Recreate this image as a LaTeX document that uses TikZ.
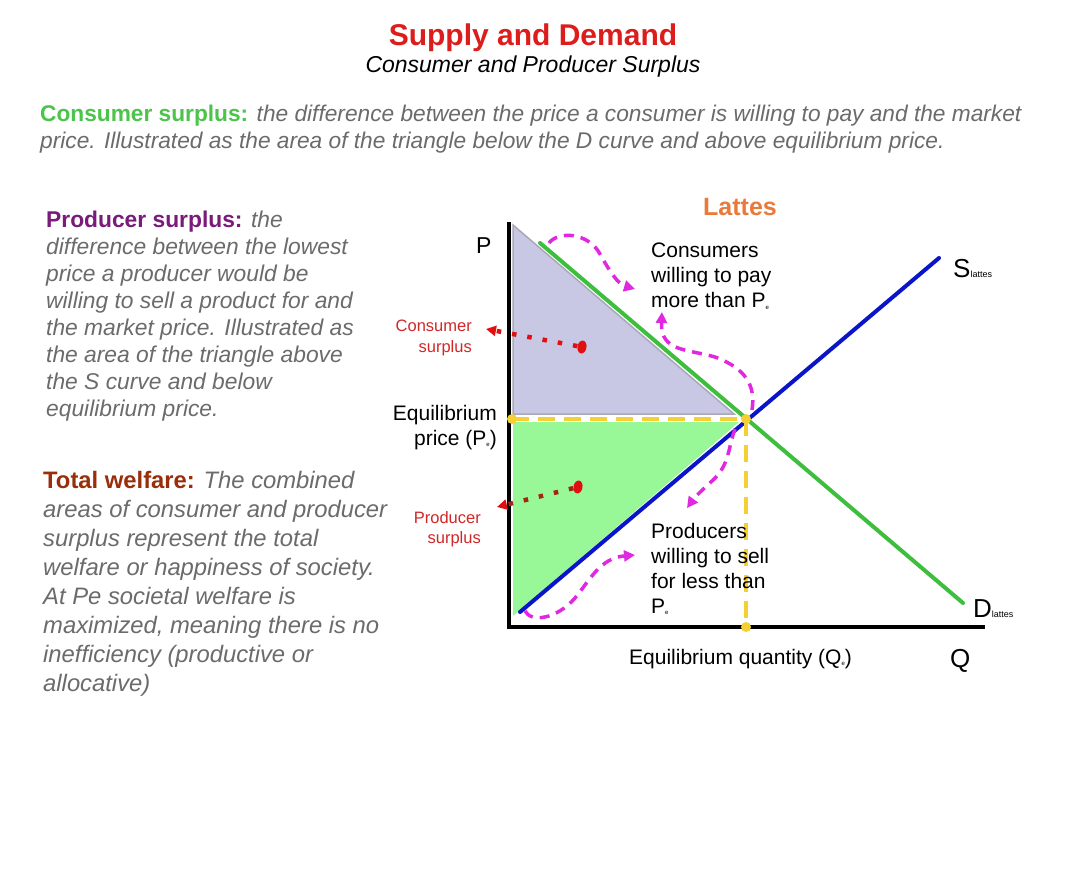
\documentclass[tikz,border=0pt]{standalone}
\usepackage{fontspec}
\setmainfont{Liberation Sans}
\usetikzlibrary{arrows.meta,shapes.geometric}

\definecolor{titlered}{HTML}{DD1C1C}
\definecolor{csgreen}{HTML}{4CC44C}
\definecolor{pspurple}{HTML}{7A1A7A}
\definecolor{twbrown}{HTML}{992E0A}
\definecolor{bodygray}{HTML}{6B6B6B}
\definecolor{latteorange}{HTML}{EA7A3A}
\definecolor{demandgreen}{HTML}{3DBE3D}
\definecolor{supplyblue}{HTML}{0A14C8}
\definecolor{cslav}{HTML}{C8C8E4}
\definecolor{csedge}{HTML}{A8A8B8}
\definecolor{psgreen}{HTML}{98F898}
\definecolor{eqyellow}{HTML}{F5D035}
\definecolor{arrowmag}{HTML}{E028E0}
\definecolor{labelred}{HTML}{D02828}
\definecolor{dotred}{HTML}{E01010}
\definecolor{dotbrown}{HTML}{A02810}

\newcommand{\pesub}{\raisebox{-1.5pt}{\fontsize{6}{6}\selectfont e}}
\newcommand{\lattesub}{{\fontsize{9}{9}\selectfont lattes}}

\begin{document}
\begin{tikzpicture}[
        x=1pt, y=-1pt, >=Triangle,
        para/.style={anchor=north west, align=left, inner sep=0pt, text=bodygray},
        graphtext/.style={inner sep=0pt, align=left, font=\fontsize{21}{25}\selectfont},
        arealabel/.style={anchor=north east, align=right, inner sep=0pt, text=labelred, font=\fontsize{16.5}{21}\selectfont},
        axislabel/.style={anchor=base west, inner sep=0pt, font=\fontsize{26}{26}\selectfont},
        axis/.style={line width=4pt},
        curve/.style={line width=4pt, line cap=round},
        eqdash/.style={eqyellow, line width=4pt, dash pattern=on 17pt off 9pt},
        eqdot/.style={circle, fill=eqyellow, inner sep=0pt, minimum size=10pt},
        surplusarrow/.style={arrowmag, line width=3.5pt, dash pattern=on 10pt off 7pt, -{Triangle[length=11pt,width=11pt]}},
        dotarrow/.style={line width=4.5pt, dash pattern=on 4.5pt off 11pt, -{Triangle[length=10pt,width=10pt]}},
        areadot/.style={ellipse, inner sep=0pt, minimum width=9pt, minimum height=13pt}
    ]
        \fill[white] (0,0) rectangle (1066,876);
        \useasboundingbox (0,0) rectangle (1066,876);

        % heading
        \node[anchor=base, inner sep=0pt, text=titlered, font=\fontsize{30}{30}\selectfont\bfseries] (title) at (533,45) {Supply and Demand};
        \node[anchor=base, inner sep=0pt, font=\fontsize{23}{23}\selectfont\itshape] (subtitle) at (533,72) {Consumer and Producer Surplus};

        % definitions
        \node[para, font=\fontsize{22.7}{27}\selectfont\itshape] (cstext) at (40,105)
            {{\color{csgreen}\upshape\bfseries Consumer surplus:} the difference between the price a consumer is willing to pay and the market\\
             price. Illustrated as the area of the triangle below the D curve and above equilibrium price.};
        \node[para, font=\fontsize{22.8}{27}\selectfont\itshape] (pstext) at (46,211)
            {{\color{pspurple}\upshape\bfseries Producer surplus:} the\\
             difference between the lowest\\
             price a producer would be\\
             willing to sell a product for and\\
             the market price. Illustrated as\\
             the area of the triangle above\\
             the S curve and below\\
             equilibrium price.};
        \node[para, font=\fontsize{23.8}{29}\selectfont\itshape] (twtext) at (43,471)
            {{\color{twbrown}\upshape\bfseries Total welfare:} The combined\\
             areas of consumer and producer\\
             surplus represent the total\\
             welfare or happiness of society.\\
             At Pe societal welfare is\\
             maximized, meaning there is no\\
             inefficiency (productive or\\
             allocative)};

        % surplus areas
        \coordinate (cstop) at (513,225);
        \coordinate (csleft) at (513,414);
        \coordinate (csright) at (734,414);
        \coordinate (psleft) at (513,422);
        \coordinate (psright) at (739,422);
        \coordinate (psbottom) at (513,616);
        \filldraw[fill=cslav, draw=csedge, line width=1.5pt] (cstop) -- (csleft) -- (csright) -- cycle;
        \fill[psgreen] (psleft) -- (psright) -- (psbottom) -- cycle;

        % axes
        \coordinate (ptop) at (509,222);
        \coordinate (origin) at (509,627);
        \coordinate (qend) at (985,627);
        \draw[axis] (ptop) -- (origin) -- (qend);

        % curves
        \coordinate (dstart) at (540,243);
        \coordinate (dend) at (963,603);
        \coordinate (sstart) at (520,612);
        \coordinate (send) at (939,258);
        \draw[curve, demandgreen] (dstart) -- (dend);
        \draw[curve, supplyblue] (sstart) -- (send);

        % equilibrium guides
        \node[eqdot] (peaxis) at (512,419) {};
        \node[eqdot] (eq) at (746,419) {};
        \node[eqdot] (qeaxis) at (746,627) {};
        \draw[eqdash] (peaxis.center) -- (eq.center);
        \draw[eqdash] (eq.center) -- (qeaxis.center);

        % axis and curve labels
        \node[anchor=base, inner sep=0pt, text=latteorange, font=\fontsize{25}{25}\selectfont\bfseries] (lattes) at (740,215) {Lattes};
        \node[anchor=base west, inner sep=0pt, font=\fontsize{23}{23}\selectfont] (plabel) at (476,253) {P};
        \node[axislabel] (qlabel) at (950,667) {Q};
        \node[axislabel] (slabel) at (953,277) {S\lattesub};
        \node[axislabel] (dlabel) at (973,617) {D\lattesub};

        \node[graphtext, anchor=north east, align=right] (eqprice) at (497,405) {Equilibrium\\price (P\pesub)};
        \node[graphtext, anchor=base west] (eqqty) at (629,664) {Equilibrium quantity (Q\pesub)};
        \node[graphtext, anchor=north west] (cswill) at (651,243) {Consumers\\willing to pay\\more than P\pesub};
        \node[graphtext, anchor=north west] (pswill) at (651,523) {Producers\\willing to sell\\for less than\\P\pesub};

        \node[arealabel] (cslabel) at (472,320) {Consumer\\surplus};
        \node[arealabel, font=\fontsize{16.5}{20}\selectfont] (pslabel) at (481,511) {Producer\\surplus};

        % pointers to the areas
        \node[areadot, fill=dotred, rotate=-10] (csdot) at (582,347) {};
        \node[areadot, fill=dotred, rotate=-10] (psdot) at (578,487) {};
        \coordinate (cstip) at (486,329);
        \coordinate (pstip) at (497,507);
        \draw[dotarrow, dotred] (csdot) -- (cstip);
        \draw[dotarrow, dotbrown, arrows={-{Triangle[length=10pt,width=10pt,fill=dotred,color=dotred]}}] (psdot) -- (pstip);

        % willing-to arrows
        \coordinate (cwstart) at (549,243);
        \coordinate (cwend) at (635,289);
        \draw[surplusarrow] (cwstart) .. controls (558,231) and (588,232) .. (600,254) .. controls (610,272) and (618,284) .. (cwend);
        \coordinate (cw2start) at (752,410);
        \coordinate (cw2end) at (662,312);
        \draw[surplusarrow] (cw2start) .. controls (756,385) and (745,368) .. (715,357) .. controls (688,349) and (660,352) .. (cw2end);
        \coordinate (pwstart) at (735,429);
        \coordinate (pwend) at (687,508);
        \draw[surplusarrow] (pwstart) .. controls (728,447) and (730,465) .. (712,481) .. controls (702,490) and (695,497) .. (pwend);
        \coordinate (pw2start) at (525,611);
        \coordinate (pw2end) at (635,555);
        \draw[surplusarrow] (pw2start) .. controls (531,623) and (557,619) .. (575,598) .. controls (590,580) and (600,558) .. (pw2end);
    \end{tikzpicture}
\end{document}
